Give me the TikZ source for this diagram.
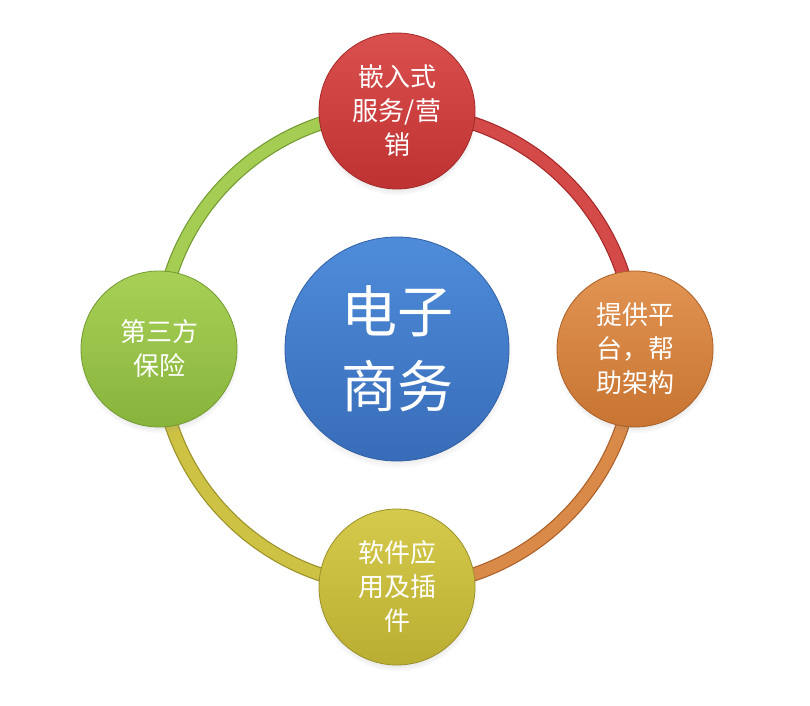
\documentclass[tikz,border=0pt]{standalone}
\usepackage{fontspec}
\newfontfamily\cjk{Noto Sans CJK SC}
\usetikzlibrary{shadows}
\definecolor{bluetop}{RGB}{78,140,218}
\definecolor{bluebot}{RGB}{56,108,184}
\definecolor{blueedge}{RGB}{50,96,165}
\definecolor{redtop}{RGB}{218,80,78}
\definecolor{redbot}{RGB}{190,50,50}
\definecolor{rededge}{RGB}{165,40,40}
\definecolor{orgtop}{RGB}{226,148,82}
\definecolor{orgbot}{RGB}{200,116,50}
\definecolor{orgedge}{RGB}{170,96,40}
\definecolor{grntop}{RGB}{168,208,86}
\definecolor{grnbot}{RGB}{136,180,60}
\definecolor{grnedge}{RGB}{115,155,50}
\definecolor{olvtop}{RGB}{214,202,76}
\definecolor{olvbot}{RGB}{186,174,50}
\definecolor{olvedge}{RGB}{155,145,40}
\begin{document}
\begin{tikzpicture}[x=1pt,y=1pt,
  bubble/.style={circle, minimum size=156pt, inner sep=0pt, align=center,
    text=white, font=\cjk\fontsize{26}{34}\selectfont, line width=0.8pt,
    circular drop shadow={shadow scale=1.03, shadow xshift=0pt, shadow yshift=-4pt, opacity=0.3}},
  hub/.style={bubble, minimum size=224pt, font=\cjk\fontsize{56}{75}\selectfont},
  ring/.style={line width=1.2pt, double distance=11.6pt}
]
\useasboundingbox[fill=white] (0,0) rectangle (810,705);
\coordinate (c) at (397,356);
\coordinate (pt) at (397,594);
\coordinate (pr) at (635,356);
\coordinate (pb) at (397,118);
\coordinate (pl) at (159,356);
% ring arcs
\draw[ring, draw=grnedge, double=grntop!90!grnbot] (pl) to[out=90,in=180] (pt);
\draw[ring, draw=rededge, double=redtop!80!redbot] (pt) to[out=0,in=90] (pr);
\draw[ring, draw=orgedge, double=orgtop!70!orgbot] (pr) to[out=-90,in=0] (pb);
\draw[ring, draw=olvedge, double=olvtop!70!olvbot] (pb) to[out=180,in=-90] (pl);
% nodes
\node[hub, top color=bluetop, bottom color=bluebot, draw=blueedge] (hubn) at (c) {电子\\商务};
\node[bubble, top color=redtop, bottom color=redbot, draw=rededge] (top) at (pt) {嵌入式\\服务/营\\销};
\node[bubble, top color=orgtop, bottom color=orgbot, draw=orgedge] (right) at (pr) {提供平\\台，帮\\助架构};
\node[bubble, top color=olvtop, bottom color=olvbot, draw=olvedge] (bottom) at (pb) {软件应\\用及插\\件};
\node[bubble, top color=grntop, bottom color=grnbot, draw=grnedge] (left) at (pl) {第三方\\保险};
\end{tikzpicture}
\end{document}
